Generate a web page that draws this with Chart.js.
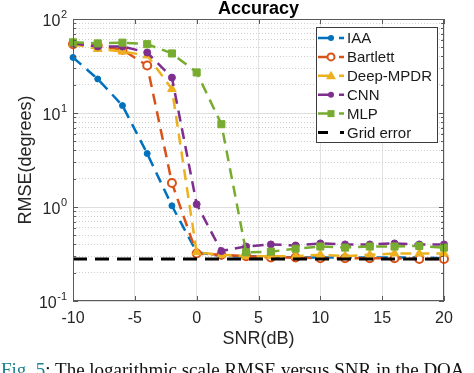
<!DOCTYPE html>
<html>
<head>
<meta charset="utf-8">
<script src="https://cdn.jsdelivr.net/npm/chart.js@4.4.1/dist/chart.umd.min.js"></script>
<style>
  html, body { margin: 0; padding: 0; background: #fff; overflow: hidden; }
  #wrap { position: relative; width: 474px; height: 373px; overflow: hidden; }
  #caption { position: absolute; left: 1px; top: 358px; font: 19px "Liberation Serif", serif; line-height: 24px; white-space: nowrap; color: #111; }
  #caption span { color: #1b7f8e; }
</style>
</head>
<body>
<div id="wrap">
  <canvas id="mycanvas" width="474" height="373"></canvas>
  <div id="caption"><span>Fig. 5</span>: The logarithmic scale RMSE versus SNR in the DOA</div>
</div>
<script>
// data
var snr = [-10, -8, -6, -4, -2, 0, 2, 4, 6, 8, 10, 12, 14, 16, 18, 20];
var iaa = [39, 23, 12, 3.7, 1.03, 0.33, 0.30, 0.30, 0.295, 0.29, 0.29, 0.29, 0.29, 0.29, 0.29, 0.285];
var bartlett = [54, 52, 47, 32, 1.8, 0.32, 0.31, 0.30, 0.29, 0.29, 0.285, 0.285, 0.285, 0.285, 0.28, 0.28];
var deepMpdr = [54, 48, 45, 41, 18, 0.33, 0.31, 0.30, 0.30, 0.30, 0.31, 0.30, 0.31, 0.32, 0.32, 0.32];
var cnn = [55, 51, 51, 44, 23.8, 1.07, 0.34, 0.38, 0.40, 0.39, 0.41, 0.40, 0.40, 0.41, 0.40, 0.40];
var mlp = [56.5, 55, 56, 54, 43, 27, 7.6, 0.33, 0.335, 0.36, 0.38, 0.37, 0.38, 0.38, 0.385, 0.37];
var gridError = [0.28, 0.28, 0.28, 0.28, 0.28, 0.28, 0.28, 0.28, 0.28, 0.28, 0.28, 0.28, 0.28, 0.28, 0.28, 0.28];

var names = ['IAA', 'Bartlett', 'Deep-MPDR', 'CNN', 'MLP', 'Grid error'];
var colors = ['#0072BD', '#D95319', '#EDB120', '#7E2F8E', '#77AC30', '#000000'];
var markers = ['dot', 'circle', 'triangle', 'dot', 'rect', 'none'];

var xTicks = [-10, -5, 0, 5, 10, 15, 20];
var yDecades = [0.1, 1, 10, 100];
var yExponents = ['-1', '0', '1', '2'];

var fontFam = '"Liberation Sans", Arial, sans-serif';
Chart.defaults.font.family = fontFam;
Chart.defaults.color = '#262626';

function pts(vals) {
  return vals.map(function(v, i) { return { x: snr[i], y: v }; });
}

function makeSet(i, vals) {
  var m = markers[i];
  var ds = {
    label: names[i],
    data: pts(vals),
    borderColor: colors[i],
    backgroundColor: colors[i],
    borderWidth: 2.5,
    borderDash: [11, 7],
    tension: 0,
    clip: false,
    order: 10 - i,
    pointBorderColor: colors[i],
    pointBackgroundColor: colors[i],
    pointBorderWidth: 1,
    pointRadius: 3
  };
  if (m === 'circle') { ds.pointStyle = 'circle'; ds.pointRadius = 4; ds.pointBorderWidth = 2; ds.pointBackgroundColor = '#fff'; }
  if (m === 'triangle') { ds.pointStyle = 'triangle'; ds.pointRadius = 5; }
  if (m === 'rect') { ds.pointStyle = 'rect'; ds.pointRadius = 5; }
  if (m === 'dot') { ds.pointStyle = 'circle'; ds.pointRadius = i === 3 ? 3.5 : 3; }
  if (m === 'none') { ds.pointRadius = 0; ds.borderWidth = 3; ds.borderDash = [14, 8]; }
  return ds;
}

function drawMarker(ctx, m, x, y, c) {
  ctx.save();
  ctx.setLineDash([]);
  ctx.fillStyle = c; ctx.strokeStyle = c;
  ctx.beginPath();
  if (m === 'dot') { ctx.arc(x, y, 3, 0, Math.PI * 2); ctx.fill(); }
  if (m === 'circle') { ctx.lineWidth = 2; ctx.arc(x, y, 3.5, 0, Math.PI * 2); ctx.fillStyle = '#fff'; ctx.fill(); ctx.stroke(); }
  if (m === 'triangle') { ctx.moveTo(x, y - 5); ctx.lineTo(x + 5, y + 3.5); ctx.lineTo(x - 5, y + 3.5); ctx.closePath(); ctx.fill(); }
  if (m === 'rect') { ctx.rect(x - 3.5, y - 3.5, 7, 7); ctx.fill(); }
  ctx.restore();
}

var framePlugin = {
  id: 'frame',
  beforeDatasetsDraw: function(chart) {
    var ctx = chart.ctx, a = chart.chartArea, ys = chart.scales.y;
    ctx.save();
    ctx.strokeStyle = '#dedede';
    ctx.lineWidth = 1;
    yDecades.forEach(function(v) {
      var py = Math.round(ys.getPixelForValue(v)) + 0.5;
      ctx.beginPath(); ctx.moveTo(a.left, py); ctx.lineTo(a.right, py); ctx.stroke();
    });
    ctx.restore();
  },
  afterDatasetsDraw: function(chart) {
    var ctx = chart.ctx, a = chart.chartArea, ys = chart.scales.y, xs = chart.scales.x;
    ctx.save();
    ctx.strokeStyle = '#5a5a5a';
    ctx.lineWidth = 1;
    ctx.strokeRect(a.left + 0.5, a.top + 0.5, a.right - a.left - 1, a.bottom - a.top - 1);
    ys.ticks.forEach(function(t) {
      var py = Math.round(ys.getPixelForValue(t.value)) + 0.5;
      var len = yDecades.indexOf(t.value) >= 0 ? 5 : 3;
      ctx.beginPath();
      ctx.moveTo(a.left, py); ctx.lineTo(a.left + len, py);
      ctx.moveTo(a.right, py); ctx.lineTo(a.right - len, py);
      ctx.stroke();
    });
    xTicks.forEach(function(v) {
      var px = Math.round(xs.getPixelForValue(v)) + 0.5;
      ctx.beginPath();
      ctx.moveTo(px, a.bottom); ctx.lineTo(px, a.bottom - 5);
      ctx.moveTo(px, a.top); ctx.lineTo(px, a.top + 5);
      ctx.stroke();
    });
    ctx.restore();
  },
  afterDraw: function(chart) {
    var ctx = chart.ctx, ys = chart.scales.y;
    ctx.save();
    // y tick labels 10^n
    ctx.fillStyle = '#262626';
    ctx.textBaseline = 'middle';
    ctx.textAlign = 'right';
    yDecades.forEach(function(v, i) {
      var py = ys.getPixelForValue(v);
      var xr = 67;
      ctx.font = '11px ' + fontFam;
      var ew = ctx.measureText(yExponents[i]).width;
      ctx.fillText(yExponents[i], xr, py - 4);
      ctx.font = '16px ' + fontFam;
      ctx.fillText('10', xr - ew - 0.5, py + 3);
    });
    // legend box
    var bx = 316, by = 27, bw = 121, bh = 115;
    ctx.fillStyle = '#fff';
    ctx.fillRect(bx, by, bw, bh);
    ctx.strokeStyle = '#3c3c3c';
    ctx.lineWidth = 1;
    ctx.strokeRect(bx + 0.5, by + 0.5, bw, bh);
    ctx.font = '15px ' + fontFam;
    ctx.textAlign = 'left';
    names.forEach(function(n, i) {
      var ly = 38 + i * 18.9;
      ctx.save();
      ctx.strokeStyle = colors[i];
      ctx.lineWidth = i === 5 ? 3 : 2.5;
      ctx.setLineDash(i === 5 ? [10, 12] : [15, 6]);
      ctx.beginPath(); ctx.moveTo(318, ly); ctx.lineTo(344, ly); ctx.stroke();
      ctx.restore();
      if (markers[i] !== 'none') drawMarker(ctx, markers[i], 331, ly, colors[i]);
      ctx.fillStyle = '#1a1a1a';
      ctx.fillText(n, 347, ly + 1);
    });
    ctx.restore();
  }
};

var ctx = document.getElementById('mycanvas');
var chart = new Chart(ctx, {
  type: 'line',
  data: {
    datasets: [
      makeSet(0, iaa),
      makeSet(1, bartlett),
      makeSet(2, deepMpdr),
      makeSet(3, cnn),
      makeSet(4, mlp),
      makeSet(5, gridError)
    ]
  },
  options: {
    responsive: false,
    animation: false,
    events: [],
    layout: { padding: { left: 0, right: 30, top: 0, bottom: 22 } },
    plugins: {
      legend: { display: false },
      tooltip: { enabled: false },
      title: {
        display: true,
        text: 'Accuracy',
        fullSize: false,
        color: '#000',
        font: { size: 18, weight: 'bold', lineHeight: 1 },
        padding: { top: 0, bottom: 1 }
      }
    },
    scales: {
      x: {
        type: 'linear',
        min: -10,
        max: 20,
        afterBuildTicks: function(scale) {
          scale.ticks = xTicks.map(function(v) { return { value: v }; });
        },
        ticks: { font: { size: 16 }, padding: 8, color: '#262626', maxRotation: 0 },
        grid: { color: '#e2e2e2', drawTicks: false, lineWidth: 1 },
        border: { display: false },
        title: { display: true, text: 'SNR(dB)', font: { size: 18 }, color: '#262626', padding: { top: 0, bottom: 1 } },
        afterFit: function(scale) { scale.height = 50; }
      },
      y: {
        type: 'logarithmic',
        min: 0.1,
        max: 100,
        afterBuildTicks: function(scale) {
          var t = [];
          yDecades.forEach(function(d, i) {
            for (var k = 1; k <= 9; k++) {
              if (i === yDecades.length - 1 && k > 1) break;
              t.push({ value: d * k });
            }
          });
          scale.ticks = t;
        },
        ticks: { display: false },
        grid: {
          drawTicks: false,
          lineWidth: 1,
          color: function(c) {
            return (c.tick && yDecades.indexOf(c.tick.value) >= 0) ? 'rgba(0,0,0,0)' : '#cfcfcf';
          }
        },
        border: { display: false, dash: [1, 2] },
        title: { display: true, text: 'RMSE(degrees)', font: { size: 18 }, color: '#262626', padding: { top: 15, bottom: 0 } },
        afterFit: function(scale) { scale.width = 73; }
      }
    }
  },
  plugins: [framePlugin]
});
</script>
</body>
</html>
